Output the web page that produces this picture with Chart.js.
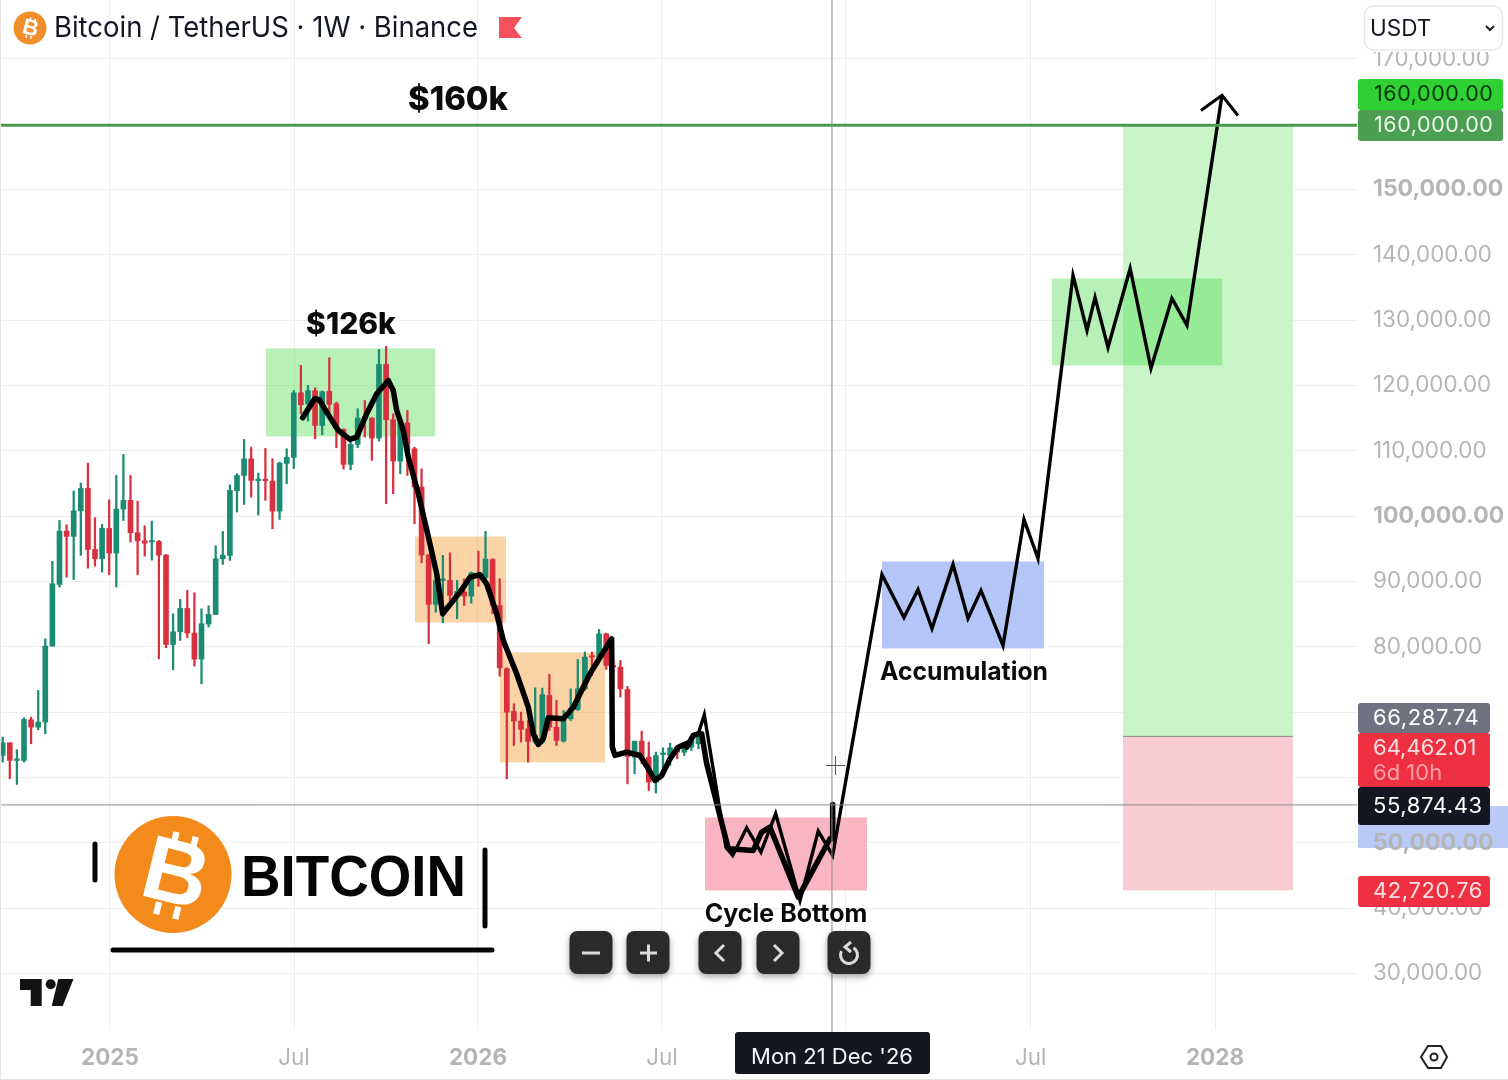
<!DOCTYPE html>
<html><head><meta charset="utf-8">
<script src="https://cdn.jsdelivr.net/npm/chart.js@4/dist/chart.umd.js"></script>
<style>html,body{margin:0;padding:0;background:#fff}canvas{display:block}</style>
</head><body><canvas id="c" width="1508" height="1080"></canvas>
<script>
const opens=[63370,65310,62610,62610,68830,67710,68480,80110,89550,97710,96900,100820,104240,94900,93480,98120,94340,101080,102410,97460,96230,96030,96130,94040,80360,82300,85870,82100,78120,83480,84960,93480,93990,103890,106230,108780,105420,105570,105360,100770,108070,108990,118880,117200,119190,113880,119090,117200,113270,107920,110980,115260,115010,111950,123220,114750,108430,114290,110310,104450,94040,86490,90160,90160,87760,88370,87760,91280,90570,93370,86330,76640,70100,68630,67450,65410,65410,72550,67710,65560,68980,70410,73570,78570,78420,81990,77150,76890,73470,63120,65560,63120,59290,63520,63370,64650,63880,64650,65160];
const closes=[65310,62610,62710,68880,67710,68480,80110,89650,97710,96900,100820,104240,94900,93480,98120,94340,101080,102410,97460,96230,95870,96130,94040,80360,82300,85870,82100,78120,83530,84960,93480,94040,103940,106230,108780,105470,105570,105420,100770,108120,108990,118880,117050,119190,113880,119040,117100,113370,107920,110980,115010,114900,111950,123220,114750,108430,114240,110160,104450,94040,86490,90160,90260,87870,88480,87760,91330,90670,93430,86330,76790,70000,68630,67350,65510,66430,72660,67710,65670,68980,70510,73570,78420,78420,81990,77150,76890,73570,63220,65560,63120,59290,63370,63730,64540,63880,64900,65920,66430];
const highs=[66180,65310,64240,69140,69240,73320,81230,93070,99340,98680,103830,105060,108120,99750,98730,102510,106230,109440,106230,102300,98530,99240,96280,94140,85060,87250,88630,88270,85820,86280,95470,97660,104800,106490,111740,110570,106590,110360,108780,108270,110310,119240,123070,120010,119650,119140,124240,117460,113370,111590,116440,117710,115060,125520,125980,115670,114650,116180,110570,107250,94140,92710,93990,94400,90160,90410,91440,94650,97660,93480,90410,76790,71280,70000,68730,73730,73680,75770,71790,70260,73570,78060,79190,79190,82660,82090,77910,77910,73930,65560,67090,65410,63880,64540,65260,64900,65160,66430,66690];
const lows=[62350,59800,58940,62350,65160,67300,66690,80110,89140,90670,90310,93990,92050,92350,91440,91030,89140,99340,96030,91030,93880,93270,78170,79850,76490,80980,81390,77050,74340,83020,84960,92610,93220,100620,101790,102910,100160,102410,98070,99500,104960,107300,115670,114550,111840,112460,115670,110470,107200,107100,110470,112100,108530,111490,101900,103430,106490,106230,98830,92860,80470,85310,83680,86330,84290,86330,86690,89240,89650,85060,75510,59800,64900,65410,62350,65160,65160,67200,64900,65410,68730,70260,73320,75610,77910,76530,74090,72300,59030,60560,62100,58010,57600,60560,61840,62860,63370,64130,64390];

const xTickWeeks=[15.11,41.03,66.94,92.86,118.77,144.8,170.75];
const xTickLabels=['2025','Jul','2026','Jul','2027','Jul','2028'];
const yTickValues=[30000,40000,50000,60000,70000,80000,90000,100000,110000,120000,130000,140000,150000,160000,170000];

const cycleX=[42.25,43.94,44.59,45.63,47.27,48.92,49.86,51.27,52.68,54.31,55.01,55.49,56.42,57.13,58.54,60.18,61.13,61.97,64.41,65.82,67.23,68.17,69.58,70.51,72.39,74.03,74.73,75.44,76.14,76.85,78.96,80.37,82.72,84.59,85.77,85.86,86.24,87.89,89.76,90.93,91.87,92.82,93.99,95.15,96.8,96.34,97.27,97.97,98.45,99.15,102.2,105.72,106.9,108.07,112.06,116.52,116.9,116.9];
const cycleY=[115060,117970,117820,115920,113120,111740,112090,115670,118730,120770,119240,116180,113120,109030,103430,95770,91180,85060,88370,90660,91030,89650,85060,80970,75880,70760,66690,65050,65930,69140,68990,70760,75880,79180,81230,64640,63370,63870,63370,61330,59540,60310,62860,64640,65410,64640,66430,66690,66690,62140,49090,48830,51630,52390,41680,50620,50620,55870];
const forecastX=[97.97,98.82,101.87,102.82,104.79,106.8,108.87,112.3,114.87,116.9,123.84,126.94,128.92,130.89,133.85,135.96,137.79,140.89,143.85,145.82,150.75,152.72,153.85,155.68,158.8,161.73,164.68,166.8,171.73];
const forecastY=[66690,69600,49330,48060,52300,48570,54450,41170,51780,48060,91080,84490,88780,82810,92610,84340,88630,80210,99490,93520,136840,128420,133480,125820,137910,122610,133320,129190,164400];
const arrowX=[168.77,171.73,173.98];
const arrowY=[162100,164400,161330];

const zoneWeeks=[[37.08,60.89],[58.07,70.89],[70.04,84.83],[98.92,121.73],[123.85,146.66],[157.79,181.73],[157.79,181.73],[147.79,171.77]];
const zonePrices=[[112200,125670],[83730,96890],[62300,79140],[42700,53880],[79750,93060],[66287.74,160000],[42720.76,66287.74],[123070,136380]];
const zoneColors=['rgba(76,220,76,.4)','rgba(242,147,32,.4)','rgba(242,147,32,.4)','#f9b5c1','#b3c6f7','#c9f5c9','#f9ccd3','rgba(76,220,76,.4)'];

const targetPrice=160000, entryPrice=66287.74, lastPrice=64462.01, crossPrice=55874.43, stopPrice=42720.76, crossWeek=116.8;
const UP='#1b8b72', DOWN='#d7313f', AXIS='#b5b5b5';
const FF='Inter, Roboto, sans-serif', BF='"Liberation Sans", Arial, sans-serif';

const weeks=opens.map((_,i)=>i);
const candleColor=weeks.map(i=>closes[i]>=opens[i]?UP:DOWN);
const pts=(xs,ys)=>xs.map((x,i)=>({x,y:ys[i]}));

function rr(c,x,y,w,h,r){c.beginPath();c.roundRect(x,y,w,h,r);}
function tag(c,x,y,w,h,bg,txt,col,tx,font,r){c.fillStyle=bg;rr(c,x,y,w,h,r===undefined?3:r);c.fill();
  c.fillStyle=col;c.font=font;c.textAlign='left';c.textBaseline='middle';if('letterSpacing' in c)c.letterSpacing='0.6px';c.fillText(txt,tx,y+h/2,119.5);if('letterSpacing' in c)c.letterSpacing='0px';}
function label(c,txt,x,y,font,col,al,mw){c.font=font;c.fillStyle=col;c.textAlign=al||'center';c.textBaseline='middle';mw?c.fillText(txt,x,y,mw):c.fillText(txt,x,y);}
function btcLogo(c,x,y,r,col,size){c.fillStyle=col;c.beginPath();c.arc(x,y,r,0,Math.PI*2);c.fill();
  c.save();c.translate(x+size*.03,y);c.rotate(14*Math.PI/180);c.fillStyle='#fff';c.font='bold '+size+'px '+BF;c.textAlign='center';c.textBaseline='middle';c.fillText('B',0,size*.04);
  const bw=size*.07,bh=size*.14,t=-size*.46,b=size*.34;
  [-.14,.08].forEach(o=>{c.fillRect(o*size,t,bw,bh);c.fillRect(o*size,b,bw,bh);});c.restore();}

const bgPlugin={id:'bg',beforeDraw(ch){const c=ch.ctx;c.save();c.fillStyle='#fff';c.fillRect(0,0,1508,1080);
  c.fillStyle='#b9caf6';c.fillRect(1358,806,150,42);c.restore();}};

const zonePlugin={id:'zones',beforeDatasetDraw(ch,a){ if(ch.data.datasets[a.index].label!=='wick')return;
  const c=ch.ctx,X=ch.scales.x,Y=ch.scales.y;c.save();
  zoneWeeks.forEach((w,i)=>{const x0=X.getPixelForValue(w[0]),x1=X.getPixelForValue(w[1]),y1=Y.getPixelForValue(zonePrices[i][0]),y0=Y.getPixelForValue(zonePrices[i][1]);
    c.fillStyle=zoneColors[i];c.fillRect(x0,y0,x1-x0,y1-y0);});
  const ye=Y.getPixelForValue(entryPrice);c.strokeStyle='#8a8a8a';c.lineWidth=1;c.beginPath();c.moveTo(X.getPixelForValue(157.79),ye);c.lineTo(X.getPixelForValue(181.73),ye);c.stroke();
  c.restore();}};

const overlayPlugin={id:'overlay',afterDatasetsDraw(ch){const c=ch.ctx,X=ch.scales.x,Y=ch.scales.y;c.save();
  // target line & crosshair
  const yt=Y.getPixelForValue(targetPrice)+1;c.strokeStyle='#4c9a52';c.lineWidth=3;c.beginPath();c.moveTo(0,yt);c.lineTo(1357,yt);c.stroke();
  const xc=X.getPixelForValue(crossWeek),yc=Y.getPixelForValue(crossPrice)+.5;c.strokeStyle='#8c8c8c';c.lineWidth=1;
  c.beginPath();c.moveTo(xc,0);c.lineTo(xc,1032);c.moveTo(0,yc);c.lineTo(1357,yc);c.stroke();
  c.strokeStyle='#555';c.beginPath();c.moveTo(826,765.5);c.lineTo(845,765.5);c.moveTo(835.5,756);c.lineTo(835.5,775);c.stroke();
  // annotations
  label(c,'$160k',458,100,'800 33px '+FF,'#0b0b0b','center',100);
  label(c,'$126k',351,325,'800 30px '+FF,'#0b0b0b','center',90);
  label(c,'Accumulation',964,672,'700 25px '+FF,'#0b0b0b','center',168);
  label(c,'Cycle Bottom',786,914,'700 25px '+FF,'#0b0b0b','center',165);
  // brand block
  btcLogo(c,173,874.5,58.5,'#f38b1c',90);
  label(c,'BITCOIN',241,880,'bold 58px '+BF,'#050505','left',225);
  c.strokeStyle='#050505';c.lineWidth=5;c.lineCap='round';c.beginPath();
  c.moveTo(95,844);c.lineTo(95,880);c.moveTo(485,850);c.lineTo(485,926);c.moveTo(113,950);c.lineTo(492,950);c.stroke();c.lineCap='butt';
  // tv logo
  c.fillStyle='#131313';c.beginPath();[[20,979],[41.7,979],[41.7,1006],[30.7,1006],[30.7,990],[20,990]].forEach((p,i)=>i?c.lineTo(p[0],p[1]):c.moveTo(p[0],p[1]));c.closePath();c.fill();
  c.beginPath();c.arc(50.7,984.3,5,0,7);c.fill();
  c.beginPath();[[58.3,979],[73.5,979],[62.7,1006],[51.7,1006]].forEach((p,i)=>i?c.lineTo(p[0],p[1]):c.moveTo(p[0],p[1]));c.closePath();c.fill();
  // buttons
  [591,648,720,778,849].forEach(x=>{c.save();c.shadowColor='rgba(0,0,0,.35)';c.shadowBlur=7;c.shadowOffsetY=3;c.fillStyle='#2a2a2a';rr(c,x-21.5,931,43,43,8);c.fill();c.restore();});
  c.strokeStyle='#dcdcdc';c.lineWidth=3;c.beginPath();
  c.moveTo(582,953);c.lineTo(600,953);c.moveTo(640,953);c.lineTo(657,953);c.moveTo(648.5,944.5);c.lineTo(648.5,961.5);
  c.moveTo(724,945);c.lineTo(716,953);c.lineTo(724,961);c.moveTo(774,945);c.lineTo(782,953);c.lineTo(774,961);c.stroke();
  c.beginPath();c.arc(849,955,8.5,-1.0,Math.PI*1.15);c.stroke();c.beginPath();c.moveTo(851,942);c.lineTo(845,947);c.lineTo(851,952);c.stroke();
  // header
  c.fillStyle='#fff';c.fillRect(1358,0,150,52);c.fillRect(1358,696,140,8);
  btcLogo(c,30,28,16.5,'#ef8e2a',22);
  c.font='28px '+FF;c.fillStyle='#131722';c.textAlign='left';c.textBaseline='middle';
  c.fillText('Bitcoin / TetherUS · 1W · Binance',54,29,424);
  c.fillStyle='#f4515a';c.beginPath();c.moveTo(499,17);c.lineTo(522,17);c.lineTo(514,28);c.lineTo(522,38);c.lineTo(499,38);c.closePath();c.fill();
  c.fillStyle='#fff';c.strokeStyle='#e8e8e8';c.lineWidth=1.5;rr(c,1364.5,6,138,44,9);c.fill();c.stroke();
  label(c,'USDT',1370,29,'22.5px '+FF,'#131722','left');
  c.strokeStyle='#222';c.lineWidth=2;c.beginPath();c.moveTo(1486,26);c.lineTo(1490,30);c.lineTo(1494,26);c.stroke();
  // price tags
  const tf='22px '+FF;
  tag(c,1358,79,145,31,'#2fd033','160,000.00','#06330a',1374,tf);
  tag(c,1358,110,145,31,'#4c9f50','160,000.00','#eaf7ea',1374,tf);
  tag(c,1358,703,132,30,'#6f7280','66,287.74','#fff',1373,tf);
  c.fillStyle='#ee3040';rr(c,1358,733,132,54,3);c.fill();
  label(c,'64,462.01',1373,748,tf,'#fde0e3','left');label(c,'6d 10h',1373,773,tf,'#f9a2ab','left');
  tag(c,1358,787,132,38,'#131722','55,874.43','#fff',1373,tf);
  tag(c,1358,876,132,31,'#ee3040','42,720.76','#fde0e3',1373,tf);
  // date label
  c.fillStyle='#131722';rr(c,735,1032,195,42,3);c.fill();
  label(c,"Mon 21 Dec '26",832,1057,'22px '+FF,'#f4f4f4');
  // settings icon
  c.strokeStyle='#222';c.lineWidth=2;c.beginPath();[[1421,1057],[1428,1046],[1441,1046],[1447,1057],[1441,1068],[1428,1068]].forEach((p,i)=>i?c.lineTo(p[0],p[1]):c.moveTo(p[0],p[1]));c.closePath();c.stroke();
  c.beginPath();c.arc(1434,1057,3.5,0,7);c.stroke();
  // frame
  c.strokeStyle='#e4e4e4';c.lineWidth=1;c.beginPath();c.moveTo(.5,0);c.lineTo(.5,1080);c.moveTo(0,1079.5);c.lineTo(1508,1079.5);c.stroke();
  c.restore();}};

new Chart(document.getElementById('c'),{
 data:{datasets:[
  {type:'bar',label:'wick',order:4,data:weeks.map(i=>({x:i,y:[lows[i],highs[i]]})),backgroundColor:weeks.map(i=>candleColor[i]),barThickness:1.6,grouped:false},
  {type:'bar',label:'body',order:3,data:weeks.map(i=>({x:i,y:[opens[i],closes[i]]})),backgroundColor:weeks.map(i=>candleColor[i]),barThickness:5,minBarLength:1.5,grouped:false},
  {type:'line',label:'cycle path',order:2,data:pts(cycleX,cycleY),borderColor:'#000',borderWidth:5.5,pointRadius:0,tension:0,borderJoinStyle:'round',borderCapStyle:'round'},
  {type:'line',label:'forecast path',order:1,data:pts(forecastX,forecastY),borderColor:'#000',borderWidth:3.4,pointRadius:0,tension:0,borderJoinStyle:'miter'},
  {type:'line',label:'arrow',order:0,data:pts(arrowX,arrowY),borderColor:'#000',borderWidth:3,pointRadius:0,tension:0}
 ]},
 plugins:[bgPlugin,zonePlugin,overlayPlugin],
 options:{responsive:false,animation:false,devicePixelRatio:1,
  layout:{padding:0},
  plugins:{legend:{display:false},tooltip:{enabled:false}},
  scales:{
   x:{type:'linear',offset:false,min:-0.38,max:190.75,
     grid:{color:'#eeeeee',offset:false,drawTicks:false},border:{display:false},
     afterBuildTicks(s){s.ticks=xTickWeeks.map(v=>({value:v}));},
     afterFit(s){s.height=50;s.paddingLeft=0;s.paddingRight=0;},
     ticks:{autoSkip:false,maxRotation:0,padding:15,color:AXIS,
       font:ctx=>({family:FF,size:22.5,weight:/^\d/.test(xTickLabels[ctx.index])?'700':'400'}),
       callback:(v,i)=>xTickLabels[i]}},
   y:{type:'linear',position:'right',min:21350,max:179000,
     grid:{color:'#eeeeee',drawTicks:false},border:{display:false},
     afterBuildTicks(s){s.ticks=yTickValues.map(v=>({value:v}));},
     afterFit(s){s.width=151;s.paddingTop=0;s.paddingBottom=0;},
     ticks:{autoSkip:false,padding:16,color:AXIS,
       font:ctx=>{const b=ctx.tick&&ctx.tick.value%50000===0;return {family:FF,size:b?23:22.4,weight:b?'700':'400'};},
       callback:v=>v.toLocaleString('en-US',{minimumFractionDigits:2,maximumFractionDigits:2})}}
  }}
});
</script></body></html>
